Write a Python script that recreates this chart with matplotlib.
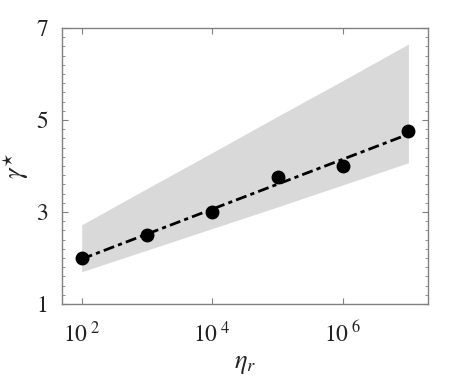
import matplotlib
matplotlib.use("Agg")
import matplotlib.pyplot as plt
import numpy as np
from matplotlib.ticker import FixedLocator, FixedFormatter, MultipleLocator, NullLocator

plt.rcParams['font.family'] = ['STIXGeneral', 'DejaVu Serif']
plt.rcParams['mathtext.fontset'] = 'stix'

# data
eta_r = [1e2, 1e3, 1e4, 1e5, 1e6, 1e7]
gamma_star = [2.0, 2.5, 3.0, 3.75, 4.0, 4.75]
band_upper = [2.72, 3.51, 4.29, 5.08, 5.86, 6.65]
band_lower = [1.70, 2.17, 2.64, 3.11, 3.59, 4.07]

xticks = [1e2, 1e4, 1e6]
xticklabels = [r"10$^{\ 2}$", r"10$^{\ 4}$", r"10$^{\ 6}$"]
yticks = [1, 3, 5, 7]

# linear fit in log10(eta_r)
coef = np.polyfit(np.log10(eta_r), gamma_star, 1)
fit = np.polyval(coef, np.log10(eta_r))

fig = plt.figure(figsize=(4.74, 3.78), dpi=100)
ax = fig.add_axes([0.131, 0.196, 0.772, 0.730])

ax.fill_between(eta_r, band_lower, band_upper, color="#d9d9d9", lw=0, zorder=1)
ax.plot(eta_r, fit, color="black", ls=(0, (4, 1.5, 1.5, 1.5)), lw=2, zorder=2)
ax.plot(eta_r, gamma_star, "o", color="black", ms=9, zorder=3)

ax.set_xscale("log")
ax.set_xlim(10**1.7, 10**7.3)
ax.set_ylim(1, 7)

ax.xaxis.set_major_locator(FixedLocator(xticks))
ax.xaxis.set_major_formatter(FixedFormatter(xticklabels))
ax.xaxis.set_minor_locator(NullLocator())
ax.yaxis.set_major_locator(FixedLocator(yticks))
ax.yaxis.set_minor_locator(MultipleLocator(0.2))

for s in ax.spines.values():
    s.set_color("#808080")
    s.set_linewidth(1.0)

ax.tick_params(which="both", direction="in", top=True, right=True, colors="#808080",
               labelcolor="#222222", labelsize=17)
ax.tick_params(which="major", length=4, width=0.8)
ax.tick_params(which="minor", length=2.5, width=0.6)
ax.tick_params(axis="x", pad=13)
ax.tick_params(axis="y", pad=10)

ax.set_xlabel(r"$\eta_r$", fontsize=19, color="#222222", labelpad=3)
ax.set_ylabel(r"$\gamma^{\star}$", fontsize=19, color="#222222", labelpad=4)

fig.savefig("out.png", dpi=100)
